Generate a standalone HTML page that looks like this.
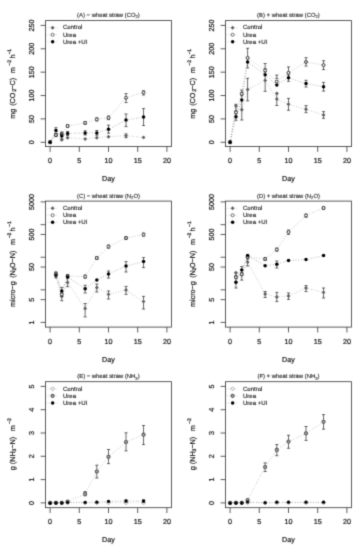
<!DOCTYPE html>
<html><head><meta charset="utf-8"><title>Figure</title>
<style>
html,body{margin:0;padding:0;background:#fff;}
body{width:356px;height:550px;overflow:hidden;}
svg{display:block;}

svg text{text-rendering:geometricPrecision;font-family:"Liberation Sans", Arial, sans-serif;fill:#222;stroke:#222;stroke-width:0.22px;}
svg text.tt{stroke-width:0.1px;fill:#111;stroke:#111;}
svg text.lg{stroke-width:0.12px;fill:#111;stroke:#111;}
</style></head><body>
<div id="w"><svg width="356" height="550" viewBox="0 0 356 550">
<defs><filter id="bl" x="0" y="0" width="100%" height="100%" filterUnits="userSpaceOnUse"><feConvolveMatrix order="3" kernelMatrix="1 5 1 5 25 5 1 5 1" edgeMode="none"/></filter></defs>
<rect width="356" height="550" fill="#fff"/>
<g filter="url(#bl)">
<rect x="45.40" y="20.60" width="126.1" height="126.0" fill="none" stroke="#333" stroke-width="0.8"/>
<line x1="50.10" y1="146.60" x2="50.10" y2="151.90" stroke="#333" stroke-width="0.8"/>
<text x="50.10" y="163.30" font-size="7.2" text-anchor="middle" >0</text>
<line x1="79.30" y1="146.60" x2="79.30" y2="151.90" stroke="#333" stroke-width="0.8"/>
<text x="79.30" y="163.30" font-size="7.2" text-anchor="middle" >5</text>
<line x1="108.50" y1="146.60" x2="108.50" y2="151.90" stroke="#333" stroke-width="0.8"/>
<text x="108.50" y="163.30" font-size="7.2" text-anchor="middle" >10</text>
<line x1="137.70" y1="146.60" x2="137.70" y2="151.90" stroke="#333" stroke-width="0.8"/>
<text x="137.70" y="163.30" font-size="7.2" text-anchor="middle" >15</text>
<line x1="166.90" y1="146.60" x2="166.90" y2="151.90" stroke="#333" stroke-width="0.8"/>
<text x="166.90" y="163.30" font-size="7.2" text-anchor="middle" >20</text>
<text x="108.45" y="181.20" font-size="7.2" text-anchor="middle" >Day</text>
<line x1="40.60" y1="142.30" x2="45.40" y2="142.30" stroke="#333" stroke-width="0.8"/>
<line x1="40.60" y1="118.92" x2="45.40" y2="118.92" stroke="#333" stroke-width="0.8"/>
<line x1="40.60" y1="95.54" x2="45.40" y2="95.54" stroke="#333" stroke-width="0.8"/>
<line x1="40.60" y1="72.16" x2="45.40" y2="72.16" stroke="#333" stroke-width="0.8"/>
<line x1="40.60" y1="48.78" x2="45.40" y2="48.78" stroke="#333" stroke-width="0.8"/>
<line x1="40.60" y1="25.40" x2="45.40" y2="25.40" stroke="#333" stroke-width="0.8"/>
<text x="0" y="0" transform="translate(33.80,142.30) rotate(-90)" font-size="7.2" text-anchor="middle" >0</text>
<text x="0" y="0" transform="translate(33.80,118.92) rotate(-90)" font-size="7.2" text-anchor="middle" >50</text>
<text x="0" y="0" transform="translate(33.80,95.54) rotate(-90)" font-size="7.2" text-anchor="middle" >100</text>
<text x="0" y="0" transform="translate(33.80,72.16) rotate(-90)" font-size="7.2" text-anchor="middle" >150</text>
<text x="0" y="0" transform="translate(33.80,48.78) rotate(-90)" font-size="7.2" text-anchor="middle" >200</text>
<text x="0" y="0" transform="translate(33.80,25.40) rotate(-90)" font-size="7.2" text-anchor="middle" >250</text>
<text x="108.45" y="17.20" font-size="5.9" text-anchor="middle" class="tt">(A) − wheat straw (CO<tspan font-size="70%" dy="1.2">2</tspan><tspan dy="-1.2">)</tspan></text>
<text x="0" y="0" transform="translate(14.70,118.70) rotate(-90)" font-size="7.20" text-anchor="start" xml:space="preserve">mg</text>
<text x="0" y="0" transform="translate(14.70,105.85) rotate(-90)" font-size="7.20" text-anchor="start" xml:space="preserve">(CO</text>
<text x="0" y="0" transform="translate(16.15,91.65) rotate(-90)" font-size="5.04" text-anchor="start" xml:space="preserve">2</text>
<text x="0" y="0" transform="translate(14.70,89.75) rotate(-90)" font-size="7.20" text-anchor="start" xml:space="preserve">−C)</text>
<text x="0" y="0" transform="translate(14.70,73.30) rotate(-90)" font-size="7.20" text-anchor="start" xml:space="preserve">m</text>
<text x="0" y="0" transform="translate(11.20,65.65) rotate(-90)" font-size="5.04" text-anchor="start" xml:space="preserve">−2</text>
<text x="0" y="0" transform="translate(14.70,58.40) rotate(-90)" font-size="7.20" text-anchor="start" xml:space="preserve">h</text>
<text x="0" y="0" transform="translate(11.20,54.60) rotate(-90)" font-size="5.04" text-anchor="start" xml:space="preserve">−1</text>
<line x1="46.60" y1="27.70" x2="58.00" y2="27.70" stroke="#999" stroke-width="0.6" stroke-dasharray="0.6 1.4"/>
<path d="M52.60 25.75 L54.55 27.70 L52.60 29.65 L50.65 27.70 Z" fill="#606060"/>
<text x="63.00" y="29.45" font-size="6.0" text-anchor="start" class="lg">Control</text>
<line x1="46.60" y1="34.75" x2="58.00" y2="34.75" stroke="#999" stroke-width="0.6" stroke-dasharray="0.6 1.4"/>
<circle cx="52.60" cy="34.75" r="1.5" fill="#fff" stroke="#505050" stroke-width="0.9"/>
<text x="63.00" y="36.50" font-size="6.0" text-anchor="start" class="lg">Urea</text>
<line x1="46.60" y1="41.80" x2="58.00" y2="41.80" stroke="#999" stroke-width="0.6" stroke-dasharray="0.6 1.4"/>
<circle cx="52.60" cy="41.80" r="1.75" fill="#000"/>
<text x="63.00" y="43.55" font-size="6.0" text-anchor="start" class="lg">Urea +UI</text>
<path d="M50.10 142.20 L55.94 135.50 L61.78 139.90 L67.62 137.80 L85.14 139.00 L96.82 137.70 L108.50 136.70 L126.02 135.70 L143.54 137.40" fill="none" stroke="#888" stroke-width="0.75" stroke-dasharray="0.6 2.0"/>
<path d="M126.02 133.90 L126.02 137.70 M124.47 133.90 L127.57 133.90 M124.47 137.70 L127.57 137.70" stroke="#3a3a3a" stroke-width="0.75" fill="none"/>
<path d="M50.10 140.25 L52.05 142.20 L50.10 144.15 L48.15 142.20 Z" fill="#606060"/>
<path d="M55.94 133.55 L57.89 135.50 L55.94 137.45 L53.99 135.50 Z" fill="#606060"/>
<path d="M61.78 137.95 L63.73 139.90 L61.78 141.85 L59.83 139.90 Z" fill="#606060"/>
<path d="M67.62 135.85 L69.57 137.80 L67.62 139.75 L65.67 137.80 Z" fill="#606060"/>
<path d="M85.14 137.05 L87.09 139.00 L85.14 140.95 L83.19 139.00 Z" fill="#606060"/>
<path d="M96.82 135.75 L98.77 137.70 L96.82 139.65 L94.87 137.70 Z" fill="#606060"/>
<path d="M108.50 134.75 L110.45 136.70 L108.50 138.65 L106.55 136.70 Z" fill="#606060"/>
<path d="M126.02 133.75 L127.97 135.70 L126.02 137.65 L124.07 135.70 Z" fill="#606060"/>
<path d="M143.54 135.45 L145.49 137.40 L143.54 139.35 L141.59 137.40 Z" fill="#606060"/>
<path d="M50.10 142.20 L55.94 135.00 L61.78 134.00 L67.62 126.00 L85.14 122.90 L96.82 119.40 L108.50 117.80 L126.02 97.80 L143.54 92.50" fill="none" stroke="#888" stroke-width="0.75" stroke-dasharray="0.6 2.0"/>
<path d="M50.10 140.70 L50.10 143.70 M48.55 140.70 L51.65 140.70 M48.55 143.70 L51.65 143.70" stroke="#3a3a3a" stroke-width="0.75" fill="none"/>
<path d="M55.94 133.50 L55.94 136.50 M54.39 133.50 L57.49 133.50 M54.39 136.50 L57.49 136.50" stroke="#3a3a3a" stroke-width="0.75" fill="none"/>
<path d="M61.78 132.00 L61.78 136.00 M60.23 132.00 L63.33 132.00 M60.23 136.00 L63.33 136.00" stroke="#3a3a3a" stroke-width="0.75" fill="none"/>
<path d="M67.62 124.50 L67.62 127.50 M66.07 124.50 L69.17 124.50 M66.07 127.50 L69.17 127.50" stroke="#3a3a3a" stroke-width="0.75" fill="none"/>
<path d="M85.14 121.50 L85.14 124.30 M83.59 121.50 L86.69 121.50 M83.59 124.30 L86.69 124.30" stroke="#3a3a3a" stroke-width="0.75" fill="none"/>
<path d="M96.82 117.90 L96.82 120.90 M95.27 117.90 L98.37 117.90 M95.27 120.90 L98.37 120.90" stroke="#3a3a3a" stroke-width="0.75" fill="none"/>
<path d="M108.50 116.00 L108.50 119.60 M106.95 116.00 L110.05 116.00 M106.95 119.60 L110.05 119.60" stroke="#3a3a3a" stroke-width="0.75" fill="none"/>
<path d="M126.02 93.60 L126.02 102.60 M124.47 93.60 L127.57 93.60 M124.47 102.60 L127.57 102.60" stroke="#3a3a3a" stroke-width="0.75" fill="none"/>
<path d="M143.54 90.80 L143.54 95.00 M141.99 90.80 L145.09 90.80 M141.99 95.00 L145.09 95.00" stroke="#3a3a3a" stroke-width="0.75" fill="none"/>
<circle cx="50.10" cy="142.20" r="1.45" fill="#eee" stroke="#222" stroke-width="1.0"/>
<circle cx="55.94" cy="135.00" r="1.45" fill="#eee" stroke="#222" stroke-width="1.0"/>
<circle cx="61.78" cy="134.00" r="1.45" fill="#eee" stroke="#222" stroke-width="1.0"/>
<circle cx="67.62" cy="126.00" r="1.45" fill="#eee" stroke="#222" stroke-width="1.0"/>
<circle cx="85.14" cy="122.90" r="1.45" fill="#eee" stroke="#222" stroke-width="1.0"/>
<circle cx="96.82" cy="119.40" r="1.45" fill="#eee" stroke="#222" stroke-width="1.0"/>
<circle cx="108.50" cy="117.80" r="1.45" fill="#eee" stroke="#222" stroke-width="1.0"/>
<circle cx="126.02" cy="97.80" r="1.45" fill="#eee" stroke="#222" stroke-width="1.0"/>
<circle cx="143.54" cy="92.50" r="1.45" fill="#eee" stroke="#222" stroke-width="1.0"/>
<path d="M50.10 142.20 L55.94 130.60 L61.78 136.10 L67.62 133.50 L85.14 132.90 L96.82 132.90 L108.50 129.30 L126.02 120.10 L143.54 117.00" fill="none" stroke="#666" stroke-width="0.75" stroke-dasharray="0.6 2.0"/>
<path d="M55.94 127.70 L55.94 133.50 M54.39 127.70 L57.49 127.70 M54.39 133.50 L57.49 133.50" stroke="#3a3a3a" stroke-width="0.75" fill="none"/>
<path d="M61.78 133.00 L61.78 139.00 M60.23 133.00 L63.33 133.00 M60.23 139.00 L63.33 139.00" stroke="#3a3a3a" stroke-width="0.75" fill="none"/>
<path d="M67.62 131.50 L67.62 135.50 M66.07 131.50 L69.17 131.50 M66.07 135.50 L69.17 135.50" stroke="#3a3a3a" stroke-width="0.75" fill="none"/>
<path d="M85.14 130.80 L85.14 135.00 M83.59 130.80 L86.69 130.80 M83.59 135.00 L86.69 135.00" stroke="#3a3a3a" stroke-width="0.75" fill="none"/>
<path d="M96.82 130.50 L96.82 135.30 M95.27 130.50 L98.37 130.50 M95.27 135.30 L98.37 135.30" stroke="#3a3a3a" stroke-width="0.75" fill="none"/>
<path d="M108.50 125.20 L108.50 133.20 M106.95 125.20 L110.05 125.20 M106.95 133.20 L110.05 133.20" stroke="#3a3a3a" stroke-width="0.75" fill="none"/>
<path d="M126.02 114.00 L126.02 126.60 M124.47 114.00 L127.57 114.00 M124.47 126.60 L127.57 126.60" stroke="#3a3a3a" stroke-width="0.75" fill="none"/>
<path d="M143.54 108.60 L143.54 125.50 M141.99 108.60 L145.09 108.60 M141.99 125.50 L145.09 125.50" stroke="#3a3a3a" stroke-width="0.75" fill="none"/>
<circle cx="50.10" cy="142.20" r="1.75" fill="#000"/>
<circle cx="55.94" cy="130.60" r="1.75" fill="#000"/>
<circle cx="61.78" cy="136.10" r="1.75" fill="#000"/>
<circle cx="67.62" cy="133.50" r="1.75" fill="#000"/>
<circle cx="85.14" cy="132.90" r="1.75" fill="#000"/>
<circle cx="96.82" cy="132.90" r="1.75" fill="#000"/>
<circle cx="108.50" cy="129.30" r="1.75" fill="#000"/>
<circle cx="126.02" cy="120.10" r="1.75" fill="#000"/>
<circle cx="143.54" cy="117.00" r="1.75" fill="#000"/>
<rect x="225.40" y="20.60" width="126.1" height="126.0" fill="none" stroke="#333" stroke-width="0.8"/>
<line x1="230.10" y1="146.60" x2="230.10" y2="151.90" stroke="#333" stroke-width="0.8"/>
<text x="230.10" y="163.30" font-size="7.2" text-anchor="middle" >0</text>
<line x1="259.30" y1="146.60" x2="259.30" y2="151.90" stroke="#333" stroke-width="0.8"/>
<text x="259.30" y="163.30" font-size="7.2" text-anchor="middle" >5</text>
<line x1="288.50" y1="146.60" x2="288.50" y2="151.90" stroke="#333" stroke-width="0.8"/>
<text x="288.50" y="163.30" font-size="7.2" text-anchor="middle" >10</text>
<line x1="317.70" y1="146.60" x2="317.70" y2="151.90" stroke="#333" stroke-width="0.8"/>
<text x="317.70" y="163.30" font-size="7.2" text-anchor="middle" >15</text>
<line x1="346.90" y1="146.60" x2="346.90" y2="151.90" stroke="#333" stroke-width="0.8"/>
<text x="346.90" y="163.30" font-size="7.2" text-anchor="middle" >20</text>
<text x="288.45" y="181.20" font-size="7.2" text-anchor="middle" >Day</text>
<line x1="220.60" y1="142.30" x2="225.40" y2="142.30" stroke="#333" stroke-width="0.8"/>
<line x1="220.60" y1="118.92" x2="225.40" y2="118.92" stroke="#333" stroke-width="0.8"/>
<line x1="220.60" y1="95.54" x2="225.40" y2="95.54" stroke="#333" stroke-width="0.8"/>
<line x1="220.60" y1="72.16" x2="225.40" y2="72.16" stroke="#333" stroke-width="0.8"/>
<line x1="220.60" y1="48.78" x2="225.40" y2="48.78" stroke="#333" stroke-width="0.8"/>
<line x1="220.60" y1="25.40" x2="225.40" y2="25.40" stroke="#333" stroke-width="0.8"/>
<text x="0" y="0" transform="translate(213.80,142.30) rotate(-90)" font-size="7.2" text-anchor="middle" >0</text>
<text x="0" y="0" transform="translate(213.80,118.92) rotate(-90)" font-size="7.2" text-anchor="middle" >50</text>
<text x="0" y="0" transform="translate(213.80,95.54) rotate(-90)" font-size="7.2" text-anchor="middle" >100</text>
<text x="0" y="0" transform="translate(213.80,72.16) rotate(-90)" font-size="7.2" text-anchor="middle" >150</text>
<text x="0" y="0" transform="translate(213.80,48.78) rotate(-90)" font-size="7.2" text-anchor="middle" >200</text>
<text x="0" y="0" transform="translate(213.80,25.40) rotate(-90)" font-size="7.2" text-anchor="middle" >250</text>
<text x="288.45" y="17.20" font-size="5.9" text-anchor="middle" class="tt">(B) + wheat straw (CO<tspan font-size="70%" dy="1.2">2</tspan><tspan dy="-1.2">)</tspan></text>
<text x="0" y="0" transform="translate(194.70,118.70) rotate(-90)" font-size="7.20" text-anchor="start" xml:space="preserve">mg</text>
<text x="0" y="0" transform="translate(194.70,105.85) rotate(-90)" font-size="7.20" text-anchor="start" xml:space="preserve">(CO</text>
<text x="0" y="0" transform="translate(196.15,91.65) rotate(-90)" font-size="5.04" text-anchor="start" xml:space="preserve">2</text>
<text x="0" y="0" transform="translate(194.70,89.75) rotate(-90)" font-size="7.20" text-anchor="start" xml:space="preserve">−C)</text>
<text x="0" y="0" transform="translate(194.70,73.30) rotate(-90)" font-size="7.20" text-anchor="start" xml:space="preserve">m</text>
<text x="0" y="0" transform="translate(191.20,65.65) rotate(-90)" font-size="5.04" text-anchor="start" xml:space="preserve">−2</text>
<text x="0" y="0" transform="translate(194.70,58.40) rotate(-90)" font-size="7.20" text-anchor="start" xml:space="preserve">h</text>
<text x="0" y="0" transform="translate(191.20,54.60) rotate(-90)" font-size="5.04" text-anchor="start" xml:space="preserve">−1</text>
<line x1="226.60" y1="27.70" x2="238.00" y2="27.70" stroke="#999" stroke-width="0.6" stroke-dasharray="0.6 1.4"/>
<path d="M232.60 25.75 L234.55 27.70 L232.60 29.65 L230.65 27.70 Z" fill="#606060"/>
<text x="243.00" y="29.45" font-size="6.0" text-anchor="start" class="lg">Control</text>
<line x1="226.60" y1="34.75" x2="238.00" y2="34.75" stroke="#999" stroke-width="0.6" stroke-dasharray="0.6 1.4"/>
<circle cx="232.60" cy="34.75" r="1.5" fill="#fff" stroke="#505050" stroke-width="0.9"/>
<text x="243.00" y="36.50" font-size="6.0" text-anchor="start" class="lg">Urea</text>
<line x1="226.60" y1="41.80" x2="238.00" y2="41.80" stroke="#999" stroke-width="0.6" stroke-dasharray="0.6 1.4"/>
<circle cx="232.60" cy="41.80" r="1.75" fill="#000"/>
<text x="243.00" y="43.55" font-size="6.0" text-anchor="start" class="lg">Urea +UI</text>
<path d="M230.10 142.20 L235.94 106.00 L241.78 109.80 L247.62 89.50 L265.14 80.40 L276.82 99.10 L288.50 104.30 L306.02 109.30 L323.54 115.00" fill="none" stroke="#888" stroke-width="0.75" stroke-dasharray="0.6 2.0"/>
<path d="M235.94 104.30 L235.94 120.30 M234.39 104.30 L237.49 104.30 M234.39 120.30 L237.49 120.30" stroke="#3a3a3a" stroke-width="0.75" fill="none"/>
<path d="M241.78 90.00 L241.78 120.00 M240.23 90.00 L243.33 90.00 M240.23 120.00 L243.33 120.00" stroke="#3a3a3a" stroke-width="0.75" fill="none"/>
<path d="M247.62 78.30 L247.62 100.80 M246.07 78.30 L249.17 78.30 M246.07 100.80 L249.17 100.80" stroke="#3a3a3a" stroke-width="0.75" fill="none"/>
<path d="M265.14 63.50 L265.14 91.30 M263.59 63.50 L266.69 63.50 M263.59 91.30 L266.69 91.30" stroke="#3a3a3a" stroke-width="0.75" fill="none"/>
<path d="M276.82 93.40 L276.82 105.50 M275.27 93.40 L278.37 93.40 M275.27 105.50 L278.37 105.50" stroke="#3a3a3a" stroke-width="0.75" fill="none"/>
<path d="M288.50 98.40 L288.50 110.30 M286.95 98.40 L290.05 98.40 M286.95 110.30 L290.05 110.30" stroke="#3a3a3a" stroke-width="0.75" fill="none"/>
<path d="M306.02 105.60 L306.02 112.70 M304.47 105.60 L307.57 105.60 M304.47 112.70 L307.57 112.70" stroke="#3a3a3a" stroke-width="0.75" fill="none"/>
<path d="M323.54 111.60 L323.54 118.40 M321.99 111.60 L325.09 111.60 M321.99 118.40 L325.09 118.40" stroke="#3a3a3a" stroke-width="0.75" fill="none"/>
<path d="M230.10 140.25 L232.05 142.20 L230.10 144.15 L228.15 142.20 Z" fill="#606060"/>
<path d="M235.94 104.05 L237.89 106.00 L235.94 107.95 L233.99 106.00 Z" fill="#606060"/>
<path d="M241.78 107.85 L243.73 109.80 L241.78 111.75 L239.83 109.80 Z" fill="#606060"/>
<path d="M247.62 87.55 L249.57 89.50 L247.62 91.45 L245.67 89.50 Z" fill="#606060"/>
<path d="M265.14 78.45 L267.09 80.40 L265.14 82.35 L263.19 80.40 Z" fill="#606060"/>
<path d="M276.82 97.15 L278.77 99.10 L276.82 101.05 L274.87 99.10 Z" fill="#606060"/>
<path d="M288.50 102.35 L290.45 104.30 L288.50 106.25 L286.55 104.30 Z" fill="#606060"/>
<path d="M306.02 107.35 L307.97 109.30 L306.02 111.25 L304.07 109.30 Z" fill="#606060"/>
<path d="M323.54 113.05 L325.49 115.00 L323.54 116.95 L321.59 115.00 Z" fill="#606060"/>
<path d="M276.82 91.45 L278.77 93.40 L276.82 95.35 L274.87 93.40 Z" fill="#606060"/>
<path d="M230.10 142.20 L235.94 112.30 L241.78 93.80 L247.62 57.90 L265.14 70.40 L276.82 81.60 L288.50 72.80 L306.02 62.00 L323.54 65.10" fill="none" stroke="#888" stroke-width="0.75" stroke-dasharray="0.6 2.0"/>
<path d="M230.10 140.70 L230.10 143.70 M228.55 140.70 L231.65 140.70 M228.55 143.70 L231.65 143.70" stroke="#3a3a3a" stroke-width="0.75" fill="none"/>
<path d="M235.94 110.80 L235.94 113.80 M234.39 110.80 L237.49 110.80 M234.39 113.80 L237.49 113.80" stroke="#3a3a3a" stroke-width="0.75" fill="none"/>
<path d="M241.78 92.30 L241.78 95.30 M240.23 92.30 L243.33 92.30 M240.23 95.30 L243.33 95.30" stroke="#3a3a3a" stroke-width="0.75" fill="none"/>
<path d="M247.62 48.30 L247.62 67.90 M246.07 48.30 L249.17 48.30 M246.07 67.90 L249.17 67.90" stroke="#3a3a3a" stroke-width="0.75" fill="none"/>
<path d="M265.14 68.90 L265.14 71.90 M263.59 68.90 L266.69 68.90 M263.59 71.90 L266.69 71.90" stroke="#3a3a3a" stroke-width="0.75" fill="none"/>
<path d="M276.82 75.10 L276.82 78.40 M275.27 75.10 L278.37 75.10 M275.27 78.40 L278.37 78.40" stroke="#3a3a3a" stroke-width="0.75" fill="none"/>
<path d="M288.50 66.90 L288.50 78.00 M286.95 66.90 L290.05 66.90 M286.95 78.00 L290.05 78.00" stroke="#3a3a3a" stroke-width="0.75" fill="none"/>
<path d="M306.02 57.70 L306.02 66.10 M304.47 57.70 L307.57 57.70 M304.47 66.10 L307.57 66.10" stroke="#3a3a3a" stroke-width="0.75" fill="none"/>
<path d="M323.54 60.70 L323.54 69.60 M321.99 60.70 L325.09 60.70 M321.99 69.60 L325.09 69.60" stroke="#3a3a3a" stroke-width="0.75" fill="none"/>
<circle cx="230.10" cy="142.20" r="1.45" fill="#eee" stroke="#222" stroke-width="1.0"/>
<circle cx="235.94" cy="112.30" r="1.45" fill="#eee" stroke="#222" stroke-width="1.0"/>
<circle cx="241.78" cy="93.80" r="1.45" fill="#eee" stroke="#222" stroke-width="1.0"/>
<circle cx="247.62" cy="57.90" r="1.45" fill="#eee" stroke="#222" stroke-width="1.0"/>
<circle cx="265.14" cy="70.40" r="1.45" fill="#eee" stroke="#222" stroke-width="1.0"/>
<circle cx="276.82" cy="81.60" r="1.45" fill="#eee" stroke="#222" stroke-width="1.0"/>
<circle cx="288.50" cy="72.80" r="1.45" fill="#eee" stroke="#222" stroke-width="1.0"/>
<circle cx="306.02" cy="62.00" r="1.45" fill="#eee" stroke="#222" stroke-width="1.0"/>
<circle cx="323.54" cy="65.10" r="1.45" fill="#eee" stroke="#222" stroke-width="1.0"/>
<path d="M230.10 142.20 L235.94 116.80 L241.78 100.10 L247.62 61.90 L265.14 74.70 L276.82 84.90 L288.50 77.70 L306.02 83.60 L323.54 86.70" fill="none" stroke="#666" stroke-width="0.75" stroke-dasharray="0.6 2.0"/>
<path d="M288.50 75.00 L288.50 81.30 M286.95 75.00 L290.05 75.00 M286.95 81.30 L290.05 81.30" stroke="#3a3a3a" stroke-width="0.75" fill="none"/>
<path d="M306.02 80.30 L306.02 87.00 M304.47 80.30 L307.57 80.30 M304.47 87.00 L307.57 87.00" stroke="#3a3a3a" stroke-width="0.75" fill="none"/>
<path d="M323.54 82.40 L323.54 91.10 M321.99 82.40 L325.09 82.40 M321.99 91.10 L325.09 91.10" stroke="#3a3a3a" stroke-width="0.75" fill="none"/>
<circle cx="230.10" cy="142.20" r="1.75" fill="#000"/>
<circle cx="235.94" cy="116.80" r="1.75" fill="#000"/>
<circle cx="241.78" cy="100.10" r="1.75" fill="#000"/>
<circle cx="247.62" cy="61.90" r="1.75" fill="#000"/>
<circle cx="265.14" cy="74.70" r="1.75" fill="#000"/>
<circle cx="276.82" cy="84.90" r="1.75" fill="#000"/>
<circle cx="288.50" cy="77.70" r="1.75" fill="#000"/>
<circle cx="306.02" cy="83.60" r="1.75" fill="#000"/>
<circle cx="323.54" cy="86.70" r="1.75" fill="#000"/>
<rect x="45.40" y="201.10" width="126.1" height="126.0" fill="none" stroke="#333" stroke-width="0.8"/>
<line x1="50.10" y1="327.10" x2="50.10" y2="332.40" stroke="#333" stroke-width="0.8"/>
<text x="50.10" y="343.80" font-size="7.2" text-anchor="middle" >0</text>
<line x1="79.30" y1="327.10" x2="79.30" y2="332.40" stroke="#333" stroke-width="0.8"/>
<text x="79.30" y="343.80" font-size="7.2" text-anchor="middle" >5</text>
<line x1="108.50" y1="327.10" x2="108.50" y2="332.40" stroke="#333" stroke-width="0.8"/>
<text x="108.50" y="343.80" font-size="7.2" text-anchor="middle" >10</text>
<line x1="137.70" y1="327.10" x2="137.70" y2="332.40" stroke="#333" stroke-width="0.8"/>
<text x="137.70" y="343.80" font-size="7.2" text-anchor="middle" >15</text>
<line x1="166.90" y1="327.10" x2="166.90" y2="332.40" stroke="#333" stroke-width="0.8"/>
<text x="166.90" y="343.80" font-size="7.2" text-anchor="middle" >20</text>
<text x="108.45" y="361.70" font-size="7.2" text-anchor="middle" >Day</text>
<line x1="40.60" y1="322.40" x2="45.40" y2="322.40" stroke="#333" stroke-width="0.8"/>
<line x1="40.60" y1="299.63" x2="45.40" y2="299.63" stroke="#333" stroke-width="0.8"/>
<line x1="40.60" y1="289.82" x2="45.40" y2="289.82" stroke="#333" stroke-width="0.8"/>
<line x1="40.60" y1="267.05" x2="45.40" y2="267.05" stroke="#333" stroke-width="0.8"/>
<line x1="40.60" y1="257.24" x2="45.40" y2="257.24" stroke="#333" stroke-width="0.8"/>
<line x1="40.60" y1="234.47" x2="45.40" y2="234.47" stroke="#333" stroke-width="0.8"/>
<line x1="40.60" y1="224.66" x2="45.40" y2="224.66" stroke="#333" stroke-width="0.8"/>
<line x1="40.60" y1="201.89" x2="45.40" y2="201.89" stroke="#333" stroke-width="0.8"/>
<text x="0" y="0" transform="translate(33.80,322.40) rotate(-90)" font-size="7.2" text-anchor="middle" >1</text>
<text x="0" y="0" transform="translate(33.80,299.63) rotate(-90)" font-size="7.2" text-anchor="middle" >5</text>
<text x="0" y="0" transform="translate(33.80,267.05) rotate(-90)" font-size="7.2" text-anchor="middle" >50</text>
<text x="0" y="0" transform="translate(33.80,234.47) rotate(-90)" font-size="7.2" text-anchor="middle" >500</text>
<text x="0" y="0" transform="translate(33.80,201.89) rotate(-90)" font-size="7.2" text-anchor="middle" >5000</text>
<text x="108.45" y="197.70" font-size="5.9" text-anchor="middle" class="tt">(C) − wheat straw (N<tspan font-size="70%" dy="1.2">2</tspan><tspan dy="-1.2">O)</tspan></text>
<text x="0" y="0" transform="translate(14.70,307.00) rotate(-90)" font-size="7.20" text-anchor="start" xml:space="preserve">micro−g</text>
<text x="0" y="0" transform="translate(14.70,277.85) rotate(-90)" font-size="7.20" text-anchor="start" xml:space="preserve">(N</text>
<text x="0" y="0" transform="translate(16.15,270.55) rotate(-90)" font-size="5.04" text-anchor="start" xml:space="preserve">2</text>
<text x="0" y="0" transform="translate(14.70,268.00) rotate(-90)" font-size="7.20" text-anchor="start" xml:space="preserve">O−N)</text>
<text x="0" y="0" transform="translate(14.70,245.00) rotate(-90)" font-size="7.20" text-anchor="start" xml:space="preserve">m</text>
<text x="0" y="0" transform="translate(11.20,238.35) rotate(-90)" font-size="5.04" text-anchor="start" xml:space="preserve">−2</text>
<text x="0" y="0" transform="translate(14.70,231.60) rotate(-90)" font-size="7.20" text-anchor="start" xml:space="preserve">h</text>
<text x="0" y="0" transform="translate(11.20,227.00) rotate(-90)" font-size="5.04" text-anchor="start" xml:space="preserve">−1</text>
<line x1="46.60" y1="208.20" x2="58.00" y2="208.20" stroke="#999" stroke-width="0.6" stroke-dasharray="0.6 1.4"/>
<path d="M52.60 206.25 L54.55 208.20 L52.60 210.15 L50.65 208.20 Z" fill="#606060"/>
<text x="63.00" y="209.95" font-size="6.0" text-anchor="start" class="lg">Control</text>
<line x1="46.60" y1="215.25" x2="58.00" y2="215.25" stroke="#999" stroke-width="0.6" stroke-dasharray="0.6 1.4"/>
<circle cx="52.60" cy="215.25" r="1.5" fill="#fff" stroke="#505050" stroke-width="0.9"/>
<text x="63.00" y="217.00" font-size="6.0" text-anchor="start" class="lg">Urea</text>
<line x1="46.60" y1="222.30" x2="58.00" y2="222.30" stroke="#999" stroke-width="0.6" stroke-dasharray="0.6 1.4"/>
<circle cx="52.60" cy="222.30" r="1.75" fill="#000"/>
<text x="63.00" y="224.05" font-size="6.0" text-anchor="start" class="lg">Urea +UI</text>
<path d="M55.94 277.00 L61.78 296.50 L67.62 282.50 L85.14 308.50 L96.82 287.60 L108.50 294.40 L126.02 290.00 L143.54 301.60" fill="none" stroke="#888" stroke-width="0.75" stroke-dasharray="0.6 2.0"/>
<path d="M61.78 287.40 L61.78 300.70 M60.23 287.40 L63.33 287.40 M60.23 300.70 L63.33 300.70" stroke="#3a3a3a" stroke-width="0.75" fill="none"/>
<path d="M67.62 278.00 L67.62 286.70 M66.07 278.00 L69.17 278.00 M66.07 286.70 L69.17 286.70" stroke="#3a3a3a" stroke-width="0.75" fill="none"/>
<path d="M85.14 303.50 L85.14 316.90 M83.59 303.50 L86.69 303.50 M83.59 316.90 L86.69 316.90" stroke="#3a3a3a" stroke-width="0.75" fill="none"/>
<path d="M96.82 284.00 L96.82 292.00 M95.27 284.00 L98.37 284.00 M95.27 292.00 L98.37 292.00" stroke="#3a3a3a" stroke-width="0.75" fill="none"/>
<path d="M108.50 291.00 L108.50 299.00 M106.95 291.00 L110.05 291.00 M106.95 299.00 L110.05 299.00" stroke="#3a3a3a" stroke-width="0.75" fill="none"/>
<path d="M126.02 286.40 L126.02 294.40 M124.47 286.40 L127.57 286.40 M124.47 294.40 L127.57 294.40" stroke="#3a3a3a" stroke-width="0.75" fill="none"/>
<path d="M143.54 296.40 L143.54 309.00 M141.99 296.40 L145.09 296.40 M141.99 309.00 L145.09 309.00" stroke="#3a3a3a" stroke-width="0.75" fill="none"/>
<path d="M55.94 275.05 L57.89 277.00 L55.94 278.95 L53.99 277.00 Z" fill="#606060"/>
<path d="M61.78 294.55 L63.73 296.50 L61.78 298.45 L59.83 296.50 Z" fill="#606060"/>
<path d="M67.62 280.55 L69.57 282.50 L67.62 284.45 L65.67 282.50 Z" fill="#606060"/>
<path d="M85.14 306.55 L87.09 308.50 L85.14 310.45 L83.19 308.50 Z" fill="#606060"/>
<path d="M96.82 285.65 L98.77 287.60 L96.82 289.55 L94.87 287.60 Z" fill="#606060"/>
<path d="M108.50 292.45 L110.45 294.40 L108.50 296.35 L106.55 294.40 Z" fill="#606060"/>
<path d="M126.02 288.05 L127.97 290.00 L126.02 291.95 L124.07 290.00 Z" fill="#606060"/>
<path d="M143.54 299.65 L145.49 301.60 L143.54 303.55 L141.59 301.60 Z" fill="#606060"/>
<path d="M55.94 273.50 L61.78 294.40 L67.62 276.00 L85.14 276.60 L96.82 258.00 L108.50 246.60 L126.02 238.00 L143.54 234.60" fill="none" stroke="#888" stroke-width="0.75" stroke-dasharray="0.6 2.0"/>
<path d="M55.94 272.00 L55.94 275.00 M54.39 272.00 L57.49 272.00 M54.39 275.00 L57.49 275.00" stroke="#3a3a3a" stroke-width="0.75" fill="none"/>
<path d="M61.78 292.90 L61.78 295.90 M60.23 292.90 L63.33 292.90 M60.23 295.90 L63.33 295.90" stroke="#3a3a3a" stroke-width="0.75" fill="none"/>
<path d="M67.62 274.50 L67.62 277.50 M66.07 274.50 L69.17 274.50 M66.07 277.50 L69.17 277.50" stroke="#3a3a3a" stroke-width="0.75" fill="none"/>
<path d="M85.14 275.10 L85.14 278.10 M83.59 275.10 L86.69 275.10 M83.59 278.10 L86.69 278.10" stroke="#3a3a3a" stroke-width="0.75" fill="none"/>
<path d="M96.82 256.50 L96.82 259.50 M95.27 256.50 L98.37 256.50 M95.27 259.50 L98.37 259.50" stroke="#3a3a3a" stroke-width="0.75" fill="none"/>
<path d="M108.50 245.10 L108.50 248.10 M106.95 245.10 L110.05 245.10 M106.95 248.10 L110.05 248.10" stroke="#3a3a3a" stroke-width="0.75" fill="none"/>
<path d="M126.02 236.50 L126.02 239.50 M124.47 236.50 L127.57 236.50 M124.47 239.50 L127.57 239.50" stroke="#3a3a3a" stroke-width="0.75" fill="none"/>
<path d="M143.54 233.10 L143.54 236.10 M141.99 233.10 L145.09 233.10 M141.99 236.10 L145.09 236.10" stroke="#3a3a3a" stroke-width="0.75" fill="none"/>
<circle cx="55.94" cy="273.50" r="1.45" fill="#eee" stroke="#222" stroke-width="1.0"/>
<circle cx="61.78" cy="294.40" r="1.45" fill="#eee" stroke="#222" stroke-width="1.0"/>
<circle cx="67.62" cy="276.00" r="1.45" fill="#eee" stroke="#222" stroke-width="1.0"/>
<circle cx="85.14" cy="276.60" r="1.45" fill="#eee" stroke="#222" stroke-width="1.0"/>
<circle cx="96.82" cy="258.00" r="1.45" fill="#eee" stroke="#222" stroke-width="1.0"/>
<circle cx="108.50" cy="246.60" r="1.45" fill="#eee" stroke="#222" stroke-width="1.0"/>
<circle cx="126.02" cy="238.00" r="1.45" fill="#eee" stroke="#222" stroke-width="1.0"/>
<circle cx="143.54" cy="234.60" r="1.45" fill="#eee" stroke="#222" stroke-width="1.0"/>
<path d="M55.94 275.00 L61.78 290.90 L67.62 276.90 L85.14 288.80 L96.82 280.00 L108.50 274.00 L126.02 266.00 L143.54 261.60" fill="none" stroke="#666" stroke-width="0.75" stroke-dasharray="0.6 2.0"/>
<path d="M85.14 285.30 L85.14 293.00 M83.59 285.30 L86.69 285.30 M83.59 293.00 L86.69 293.00" stroke="#3a3a3a" stroke-width="0.75" fill="none"/>
<path d="M108.50 271.00 L108.50 278.00 M106.95 271.00 L110.05 271.00 M106.95 278.00 L110.05 278.00" stroke="#3a3a3a" stroke-width="0.75" fill="none"/>
<path d="M126.02 261.60 L126.02 272.00 M124.47 261.60 L127.57 261.60 M124.47 272.00 L127.57 272.00" stroke="#3a3a3a" stroke-width="0.75" fill="none"/>
<path d="M143.54 257.60 L143.54 267.60 M141.99 257.60 L145.09 257.60 M141.99 267.60 L145.09 267.60" stroke="#3a3a3a" stroke-width="0.75" fill="none"/>
<circle cx="55.94" cy="275.00" r="1.75" fill="#000"/>
<circle cx="61.78" cy="290.90" r="1.75" fill="#000"/>
<circle cx="67.62" cy="276.90" r="1.75" fill="#000"/>
<circle cx="85.14" cy="288.80" r="1.75" fill="#000"/>
<circle cx="96.82" cy="280.00" r="1.75" fill="#000"/>
<circle cx="108.50" cy="274.00" r="1.75" fill="#000"/>
<circle cx="126.02" cy="266.00" r="1.75" fill="#000"/>
<circle cx="143.54" cy="261.60" r="1.75" fill="#000"/>
<rect x="225.40" y="201.10" width="126.1" height="126.0" fill="none" stroke="#333" stroke-width="0.8"/>
<line x1="230.10" y1="327.10" x2="230.10" y2="332.40" stroke="#333" stroke-width="0.8"/>
<text x="230.10" y="343.80" font-size="7.2" text-anchor="middle" >0</text>
<line x1="259.30" y1="327.10" x2="259.30" y2="332.40" stroke="#333" stroke-width="0.8"/>
<text x="259.30" y="343.80" font-size="7.2" text-anchor="middle" >5</text>
<line x1="288.50" y1="327.10" x2="288.50" y2="332.40" stroke="#333" stroke-width="0.8"/>
<text x="288.50" y="343.80" font-size="7.2" text-anchor="middle" >10</text>
<line x1="317.70" y1="327.10" x2="317.70" y2="332.40" stroke="#333" stroke-width="0.8"/>
<text x="317.70" y="343.80" font-size="7.2" text-anchor="middle" >15</text>
<line x1="346.90" y1="327.10" x2="346.90" y2="332.40" stroke="#333" stroke-width="0.8"/>
<text x="346.90" y="343.80" font-size="7.2" text-anchor="middle" >20</text>
<text x="288.45" y="361.70" font-size="7.2" text-anchor="middle" >Day</text>
<line x1="220.60" y1="322.40" x2="225.40" y2="322.40" stroke="#333" stroke-width="0.8"/>
<line x1="220.60" y1="299.63" x2="225.40" y2="299.63" stroke="#333" stroke-width="0.8"/>
<line x1="220.60" y1="289.82" x2="225.40" y2="289.82" stroke="#333" stroke-width="0.8"/>
<line x1="220.60" y1="267.05" x2="225.40" y2="267.05" stroke="#333" stroke-width="0.8"/>
<line x1="220.60" y1="257.24" x2="225.40" y2="257.24" stroke="#333" stroke-width="0.8"/>
<line x1="220.60" y1="234.47" x2="225.40" y2="234.47" stroke="#333" stroke-width="0.8"/>
<line x1="220.60" y1="224.66" x2="225.40" y2="224.66" stroke="#333" stroke-width="0.8"/>
<line x1="220.60" y1="201.89" x2="225.40" y2="201.89" stroke="#333" stroke-width="0.8"/>
<text x="0" y="0" transform="translate(213.80,322.40) rotate(-90)" font-size="7.2" text-anchor="middle" >1</text>
<text x="0" y="0" transform="translate(213.80,299.63) rotate(-90)" font-size="7.2" text-anchor="middle" >5</text>
<text x="0" y="0" transform="translate(213.80,267.05) rotate(-90)" font-size="7.2" text-anchor="middle" >50</text>
<text x="0" y="0" transform="translate(213.80,234.47) rotate(-90)" font-size="7.2" text-anchor="middle" >500</text>
<text x="0" y="0" transform="translate(213.80,201.89) rotate(-90)" font-size="7.2" text-anchor="middle" >5000</text>
<text x="288.45" y="197.70" font-size="5.9" text-anchor="middle" class="tt">(D) + wheat straw (N<tspan font-size="70%" dy="1.2">2</tspan><tspan dy="-1.2">O)</tspan></text>
<text x="0" y="0" transform="translate(194.70,307.00) rotate(-90)" font-size="7.20" text-anchor="start" xml:space="preserve">micro−g</text>
<text x="0" y="0" transform="translate(194.70,277.85) rotate(-90)" font-size="7.20" text-anchor="start" xml:space="preserve">(N</text>
<text x="0" y="0" transform="translate(196.15,270.55) rotate(-90)" font-size="5.04" text-anchor="start" xml:space="preserve">2</text>
<text x="0" y="0" transform="translate(194.70,268.00) rotate(-90)" font-size="7.20" text-anchor="start" xml:space="preserve">O−N)</text>
<text x="0" y="0" transform="translate(194.70,245.00) rotate(-90)" font-size="7.20" text-anchor="start" xml:space="preserve">m</text>
<text x="0" y="0" transform="translate(191.20,238.35) rotate(-90)" font-size="5.04" text-anchor="start" xml:space="preserve">−2</text>
<text x="0" y="0" transform="translate(194.70,231.60) rotate(-90)" font-size="7.20" text-anchor="start" xml:space="preserve">h</text>
<text x="0" y="0" transform="translate(191.20,227.00) rotate(-90)" font-size="5.04" text-anchor="start" xml:space="preserve">−1</text>
<line x1="226.60" y1="208.20" x2="238.00" y2="208.20" stroke="#999" stroke-width="0.6" stroke-dasharray="0.6 1.4"/>
<path d="M232.60 206.25 L234.55 208.20 L232.60 210.15 L230.65 208.20 Z" fill="#606060"/>
<text x="243.00" y="209.95" font-size="6.0" text-anchor="start" class="lg">Control</text>
<line x1="226.60" y1="215.25" x2="238.00" y2="215.25" stroke="#999" stroke-width="0.6" stroke-dasharray="0.6 1.4"/>
<circle cx="232.60" cy="215.25" r="1.5" fill="#fff" stroke="#505050" stroke-width="0.9"/>
<text x="243.00" y="217.00" font-size="6.0" text-anchor="start" class="lg">Urea</text>
<line x1="226.60" y1="222.30" x2="238.00" y2="222.30" stroke="#999" stroke-width="0.6" stroke-dasharray="0.6 1.4"/>
<circle cx="232.60" cy="222.30" r="1.75" fill="#000"/>
<text x="243.00" y="224.05" font-size="6.0" text-anchor="start" class="lg">Urea +UI</text>
<path d="M235.94 272.80 L241.78 274.20 L247.62 262.10 L265.14 294.00 L276.82 297.00 L288.50 296.00 L306.02 288.00 L323.54 292.40" fill="none" stroke="#888" stroke-width="0.75" stroke-dasharray="0.6 2.0"/>
<path d="M235.94 272.80 L235.94 288.00 M234.39 272.80 L237.49 272.80 M234.39 288.00 L237.49 288.00" stroke="#3a3a3a" stroke-width="0.75" fill="none"/>
<path d="M241.78 266.50 L241.78 280.10 M240.23 266.50 L243.33 266.50 M240.23 280.10 L243.33 280.10" stroke="#3a3a3a" stroke-width="0.75" fill="none"/>
<path d="M247.62 259.00 L247.62 266.00 M246.07 259.00 L249.17 259.00 M246.07 266.00 L249.17 266.00" stroke="#3a3a3a" stroke-width="0.75" fill="none"/>
<path d="M265.14 291.50 L265.14 297.50 M263.59 291.50 L266.69 291.50 M263.59 297.50 L266.69 297.50" stroke="#3a3a3a" stroke-width="0.75" fill="none"/>
<path d="M276.82 292.40 L276.82 301.60 M275.27 292.40 L278.37 292.40 M275.27 301.60 L278.37 301.60" stroke="#3a3a3a" stroke-width="0.75" fill="none"/>
<path d="M288.50 293.00 L288.50 299.40 M286.95 293.00 L290.05 293.00 M286.95 299.40 L290.05 299.40" stroke="#3a3a3a" stroke-width="0.75" fill="none"/>
<path d="M306.02 285.60 L306.02 291.60 M304.47 285.60 L307.57 285.60 M304.47 291.60 L307.57 291.60" stroke="#3a3a3a" stroke-width="0.75" fill="none"/>
<path d="M323.54 288.00 L323.54 298.00 M321.99 288.00 L325.09 288.00 M321.99 298.00 L325.09 298.00" stroke="#3a3a3a" stroke-width="0.75" fill="none"/>
<path d="M235.94 270.85 L237.89 272.80 L235.94 274.75 L233.99 272.80 Z" fill="#606060"/>
<path d="M241.78 272.25 L243.73 274.20 L241.78 276.15 L239.83 274.20 Z" fill="#606060"/>
<path d="M247.62 260.15 L249.57 262.10 L247.62 264.05 L245.67 262.10 Z" fill="#606060"/>
<path d="M265.14 292.05 L267.09 294.00 L265.14 295.95 L263.19 294.00 Z" fill="#606060"/>
<path d="M276.82 295.05 L278.77 297.00 L276.82 298.95 L274.87 297.00 Z" fill="#606060"/>
<path d="M288.50 294.05 L290.45 296.00 L288.50 297.95 L286.55 296.00 Z" fill="#606060"/>
<path d="M306.02 286.05 L307.97 288.00 L306.02 289.95 L304.07 288.00 Z" fill="#606060"/>
<path d="M323.54 290.45 L325.49 292.40 L323.54 294.35 L321.59 292.40 Z" fill="#606060"/>
<path d="M235.94 277.10 L241.78 274.20 L247.62 256.90 L265.14 259.00 L276.82 249.60 L288.50 232.00 L306.02 215.60 L323.54 208.00" fill="none" stroke="#888" stroke-width="0.75" stroke-dasharray="0.6 2.0"/>
<path d="M235.94 275.60 L235.94 278.60 M234.39 275.60 L237.49 275.60 M234.39 278.60 L237.49 278.60" stroke="#3a3a3a" stroke-width="0.75" fill="none"/>
<path d="M241.78 272.70 L241.78 275.70 M240.23 272.70 L243.33 272.70 M240.23 275.70 L243.33 275.70" stroke="#3a3a3a" stroke-width="0.75" fill="none"/>
<path d="M247.62 255.40 L247.62 258.40 M246.07 255.40 L249.17 255.40 M246.07 258.40 L249.17 258.40" stroke="#3a3a3a" stroke-width="0.75" fill="none"/>
<path d="M265.14 257.50 L265.14 260.50 M263.59 257.50 L266.69 257.50 M263.59 260.50 L266.69 260.50" stroke="#3a3a3a" stroke-width="0.75" fill="none"/>
<path d="M276.82 248.10 L276.82 251.10 M275.27 248.10 L278.37 248.10 M275.27 251.10 L278.37 251.10" stroke="#3a3a3a" stroke-width="0.75" fill="none"/>
<path d="M288.50 230.00 L288.50 234.40 M286.95 230.00 L290.05 230.00 M286.95 234.40 L290.05 234.40" stroke="#3a3a3a" stroke-width="0.75" fill="none"/>
<path d="M306.02 214.10 L306.02 217.10 M304.47 214.10 L307.57 214.10 M304.47 217.10 L307.57 217.10" stroke="#3a3a3a" stroke-width="0.75" fill="none"/>
<path d="M323.54 206.50 L323.54 209.50 M321.99 206.50 L325.09 206.50 M321.99 209.50 L325.09 209.50" stroke="#3a3a3a" stroke-width="0.75" fill="none"/>
<circle cx="235.94" cy="277.10" r="1.45" fill="#eee" stroke="#222" stroke-width="1.0"/>
<circle cx="241.78" cy="274.20" r="1.45" fill="#eee" stroke="#222" stroke-width="1.0"/>
<circle cx="247.62" cy="256.90" r="1.45" fill="#eee" stroke="#222" stroke-width="1.0"/>
<circle cx="265.14" cy="259.00" r="1.45" fill="#eee" stroke="#222" stroke-width="1.0"/>
<circle cx="276.82" cy="249.60" r="1.45" fill="#eee" stroke="#222" stroke-width="1.0"/>
<circle cx="288.50" cy="232.00" r="1.45" fill="#eee" stroke="#222" stroke-width="1.0"/>
<circle cx="306.02" cy="215.60" r="1.45" fill="#eee" stroke="#222" stroke-width="1.0"/>
<circle cx="323.54" cy="208.00" r="1.45" fill="#eee" stroke="#222" stroke-width="1.0"/>
<path d="M235.94 282.30 L241.78 270.00 L247.62 255.60 L265.14 265.70 L276.82 264.20 L288.50 260.40 L306.02 259.60 L323.54 255.60" fill="none" stroke="#666" stroke-width="0.75" stroke-dasharray="0.6 2.0"/>
<path d="M276.82 261.00 L276.82 268.00 M275.27 261.00 L278.37 261.00 M275.27 268.00 L278.37 268.00" stroke="#3a3a3a" stroke-width="0.75" fill="none"/>
<circle cx="235.94" cy="282.30" r="1.75" fill="#000"/>
<circle cx="241.78" cy="270.00" r="1.75" fill="#000"/>
<circle cx="247.62" cy="255.60" r="1.75" fill="#000"/>
<circle cx="265.14" cy="265.70" r="1.75" fill="#000"/>
<circle cx="276.82" cy="264.20" r="1.75" fill="#000"/>
<circle cx="288.50" cy="260.40" r="1.75" fill="#000"/>
<circle cx="306.02" cy="259.60" r="1.75" fill="#000"/>
<circle cx="323.54" cy="255.60" r="1.75" fill="#000"/>
<rect x="45.40" y="381.70" width="126.1" height="126.0" fill="none" stroke="#333" stroke-width="0.8"/>
<line x1="50.10" y1="507.70" x2="50.10" y2="513.00" stroke="#333" stroke-width="0.8"/>
<text x="50.10" y="524.40" font-size="7.2" text-anchor="middle" >0</text>
<line x1="79.30" y1="507.70" x2="79.30" y2="513.00" stroke="#333" stroke-width="0.8"/>
<text x="79.30" y="524.40" font-size="7.2" text-anchor="middle" >5</text>
<line x1="108.50" y1="507.70" x2="108.50" y2="513.00" stroke="#333" stroke-width="0.8"/>
<text x="108.50" y="524.40" font-size="7.2" text-anchor="middle" >10</text>
<line x1="137.70" y1="507.70" x2="137.70" y2="513.00" stroke="#333" stroke-width="0.8"/>
<text x="137.70" y="524.40" font-size="7.2" text-anchor="middle" >15</text>
<line x1="166.90" y1="507.70" x2="166.90" y2="513.00" stroke="#333" stroke-width="0.8"/>
<text x="166.90" y="524.40" font-size="7.2" text-anchor="middle" >20</text>
<text x="108.45" y="542.30" font-size="7.2" text-anchor="middle" >Day</text>
<line x1="40.60" y1="502.90" x2="45.40" y2="502.90" stroke="#333" stroke-width="0.8"/>
<line x1="40.60" y1="479.60" x2="45.40" y2="479.60" stroke="#333" stroke-width="0.8"/>
<line x1="40.60" y1="456.30" x2="45.40" y2="456.30" stroke="#333" stroke-width="0.8"/>
<line x1="40.60" y1="433.00" x2="45.40" y2="433.00" stroke="#333" stroke-width="0.8"/>
<line x1="40.60" y1="409.70" x2="45.40" y2="409.70" stroke="#333" stroke-width="0.8"/>
<line x1="40.60" y1="386.40" x2="45.40" y2="386.40" stroke="#333" stroke-width="0.8"/>
<text x="0" y="0" transform="translate(33.80,502.90) rotate(-90)" font-size="7.2" text-anchor="middle" >0</text>
<text x="0" y="0" transform="translate(33.80,479.60) rotate(-90)" font-size="7.2" text-anchor="middle" >1</text>
<text x="0" y="0" transform="translate(33.80,456.30) rotate(-90)" font-size="7.2" text-anchor="middle" >2</text>
<text x="0" y="0" transform="translate(33.80,433.00) rotate(-90)" font-size="7.2" text-anchor="middle" >3</text>
<text x="0" y="0" transform="translate(33.80,409.70) rotate(-90)" font-size="7.2" text-anchor="middle" >4</text>
<text x="0" y="0" transform="translate(33.80,386.40) rotate(-90)" font-size="7.2" text-anchor="middle" >5</text>
<text x="108.45" y="378.30" font-size="5.9" text-anchor="middle" class="tt">(E) − wheat straw (NH<tspan font-size="70%" dy="1.2">3</tspan><tspan dy="-1.2">)</tspan></text>
<text x="0" y="0" transform="translate(14.70,470.20) rotate(-90)" font-size="7.20" text-anchor="start" xml:space="preserve">g (NH</text>
<text x="0" y="0" transform="translate(16.15,451.40) rotate(-90)" font-size="5.04" text-anchor="start" xml:space="preserve">3</text>
<text x="0" y="0" transform="translate(14.70,448.60) rotate(-90)" font-size="7.20" text-anchor="start" xml:space="preserve">−N)</text>
<text x="0" y="0" transform="translate(14.70,431.30) rotate(-90)" font-size="7.20" text-anchor="start" xml:space="preserve">m</text>
<text x="0" y="0" transform="translate(11.20,424.05) rotate(-90)" font-size="5.04" text-anchor="start" xml:space="preserve">−2</text>
<line x1="46.60" y1="388.80" x2="58.00" y2="388.80" stroke="#999" stroke-width="0.6" stroke-dasharray="0.6 1.4"/>
<path d="M52.60 386.80 L54.60 388.80 L52.60 390.80 L50.60 388.80 Z" fill="none" stroke="#999" stroke-width="0.8"/>
<text x="63.00" y="390.55" font-size="6.0" text-anchor="start" class="lg">Control</text>
<line x1="46.60" y1="395.85" x2="58.00" y2="395.85" stroke="#999" stroke-width="0.6" stroke-dasharray="0.6 1.4"/>
<circle cx="52.60" cy="395.85" r="1.55" fill="#aaa" stroke="#555" stroke-width="1.1"/>
<text x="63.00" y="397.60" font-size="6.0" text-anchor="start" class="lg">Urea</text>
<line x1="46.60" y1="402.90" x2="58.00" y2="402.90" stroke="#999" stroke-width="0.6" stroke-dasharray="0.6 1.4"/>
<circle cx="52.60" cy="402.90" r="1.75" fill="#000"/>
<text x="63.00" y="404.65" font-size="6.0" text-anchor="start" class="lg">Urea +UI</text>
<path d="M50.10 502.80 L55.94 502.80 L61.78 502.80 L67.62 502.80 L85.14 502.80 L96.82 502.80 L108.50 502.80 L126.02 502.80 L143.54 502.80" fill="none" stroke="#bbb" stroke-width="0.75" stroke-dasharray="0.6 2.0"/>
<path d="M50.10 500.80 L52.10 502.80 L50.10 504.80 L48.10 502.80 Z" fill="none" stroke="#999" stroke-width="0.8"/>
<path d="M55.94 500.80 L57.94 502.80 L55.94 504.80 L53.94 502.80 Z" fill="none" stroke="#999" stroke-width="0.8"/>
<path d="M61.78 500.80 L63.78 502.80 L61.78 504.80 L59.78 502.80 Z" fill="none" stroke="#999" stroke-width="0.8"/>
<path d="M67.62 500.80 L69.62 502.80 L67.62 504.80 L65.62 502.80 Z" fill="none" stroke="#999" stroke-width="0.8"/>
<path d="M85.14 500.80 L87.14 502.80 L85.14 504.80 L83.14 502.80 Z" fill="none" stroke="#999" stroke-width="0.8"/>
<path d="M96.82 500.80 L98.82 502.80 L96.82 504.80 L94.82 502.80 Z" fill="none" stroke="#999" stroke-width="0.8"/>
<path d="M108.50 500.80 L110.50 502.80 L108.50 504.80 L106.50 502.80 Z" fill="none" stroke="#999" stroke-width="0.8"/>
<path d="M126.02 500.80 L128.02 502.80 L126.02 504.80 L124.02 502.80 Z" fill="none" stroke="#999" stroke-width="0.8"/>
<path d="M143.54 500.80 L145.54 502.80 L143.54 504.80 L141.54 502.80 Z" fill="none" stroke="#999" stroke-width="0.8"/>
<path d="M50.10 502.80 L55.94 502.80 L61.78 502.80 L67.62 501.50 L85.14 493.90 L96.82 471.50 L108.50 456.80 L126.02 442.00 L143.54 434.70" fill="none" stroke="#888" stroke-width="0.75" stroke-dasharray="0.6 2.0"/>
<path d="M85.14 491.60 L85.14 495.80 M83.59 491.60 L86.69 491.60 M83.59 495.80 L86.69 495.80" stroke="#3a3a3a" stroke-width="0.75" fill="none"/>
<path d="M96.82 465.20 L96.82 478.00 M95.27 465.20 L98.37 465.20 M95.27 478.00 L98.37 478.00" stroke="#3a3a3a" stroke-width="0.75" fill="none"/>
<path d="M108.50 449.50 L108.50 463.60 M106.95 449.50 L110.05 449.50 M106.95 463.60 L110.05 463.60" stroke="#3a3a3a" stroke-width="0.75" fill="none"/>
<path d="M126.02 432.80 L126.02 450.90 M124.47 432.80 L127.57 432.80 M124.47 450.90 L127.57 450.90" stroke="#3a3a3a" stroke-width="0.75" fill="none"/>
<path d="M143.54 425.50 L143.54 444.60 M141.99 425.50 L145.09 425.50 M141.99 444.60 L145.09 444.60" stroke="#3a3a3a" stroke-width="0.75" fill="none"/>
<circle cx="50.10" cy="502.80" r="1.55" fill="#aaa" stroke="#555" stroke-width="1.1"/>
<circle cx="55.94" cy="502.80" r="1.55" fill="#aaa" stroke="#555" stroke-width="1.1"/>
<circle cx="61.78" cy="502.80" r="1.55" fill="#aaa" stroke="#555" stroke-width="1.1"/>
<circle cx="67.62" cy="501.50" r="1.55" fill="#aaa" stroke="#555" stroke-width="1.1"/>
<circle cx="85.14" cy="493.90" r="1.55" fill="#aaa" stroke="#555" stroke-width="1.1"/>
<circle cx="96.82" cy="471.50" r="1.55" fill="#aaa" stroke="#555" stroke-width="1.1"/>
<circle cx="108.50" cy="456.80" r="1.55" fill="#aaa" stroke="#555" stroke-width="1.1"/>
<circle cx="126.02" cy="442.00" r="1.55" fill="#aaa" stroke="#555" stroke-width="1.1"/>
<circle cx="143.54" cy="434.70" r="1.55" fill="#aaa" stroke="#555" stroke-width="1.1"/>
<path d="M50.10 503.20 L55.94 502.90 L61.78 502.90 L67.62 502.40 L85.14 502.40 L96.82 502.20 L108.50 501.40 L126.02 501.10 L143.54 501.10" fill="none" stroke="#666" stroke-width="0.75" stroke-dasharray="0.6 2.0"/>
<path d="M126.02 500.00 L126.02 502.40 M124.47 500.00 L127.57 500.00 M124.47 502.40 L127.57 502.40" stroke="#3a3a3a" stroke-width="0.75" fill="none"/>
<path d="M143.54 500.00 L143.54 502.60 M141.99 500.00 L145.09 500.00 M141.99 502.60 L145.09 502.60" stroke="#3a3a3a" stroke-width="0.75" fill="none"/>
<circle cx="50.10" cy="503.20" r="1.75" fill="#000"/>
<circle cx="55.94" cy="502.90" r="1.75" fill="#000"/>
<circle cx="61.78" cy="502.90" r="1.75" fill="#000"/>
<circle cx="67.62" cy="502.40" r="1.75" fill="#000"/>
<circle cx="85.14" cy="502.40" r="1.75" fill="#000"/>
<circle cx="96.82" cy="502.20" r="1.75" fill="#000"/>
<circle cx="108.50" cy="501.40" r="1.75" fill="#000"/>
<circle cx="126.02" cy="501.10" r="1.75" fill="#000"/>
<circle cx="143.54" cy="501.10" r="1.75" fill="#000"/>
<rect x="225.40" y="381.70" width="126.1" height="126.0" fill="none" stroke="#333" stroke-width="0.8"/>
<line x1="230.10" y1="507.70" x2="230.10" y2="513.00" stroke="#333" stroke-width="0.8"/>
<text x="230.10" y="524.40" font-size="7.2" text-anchor="middle" >0</text>
<line x1="259.30" y1="507.70" x2="259.30" y2="513.00" stroke="#333" stroke-width="0.8"/>
<text x="259.30" y="524.40" font-size="7.2" text-anchor="middle" >5</text>
<line x1="288.50" y1="507.70" x2="288.50" y2="513.00" stroke="#333" stroke-width="0.8"/>
<text x="288.50" y="524.40" font-size="7.2" text-anchor="middle" >10</text>
<line x1="317.70" y1="507.70" x2="317.70" y2="513.00" stroke="#333" stroke-width="0.8"/>
<text x="317.70" y="524.40" font-size="7.2" text-anchor="middle" >15</text>
<line x1="346.90" y1="507.70" x2="346.90" y2="513.00" stroke="#333" stroke-width="0.8"/>
<text x="346.90" y="524.40" font-size="7.2" text-anchor="middle" >20</text>
<text x="288.45" y="542.30" font-size="7.2" text-anchor="middle" >Day</text>
<line x1="220.60" y1="502.90" x2="225.40" y2="502.90" stroke="#333" stroke-width="0.8"/>
<line x1="220.60" y1="479.60" x2="225.40" y2="479.60" stroke="#333" stroke-width="0.8"/>
<line x1="220.60" y1="456.30" x2="225.40" y2="456.30" stroke="#333" stroke-width="0.8"/>
<line x1="220.60" y1="433.00" x2="225.40" y2="433.00" stroke="#333" stroke-width="0.8"/>
<line x1="220.60" y1="409.70" x2="225.40" y2="409.70" stroke="#333" stroke-width="0.8"/>
<line x1="220.60" y1="386.40" x2="225.40" y2="386.40" stroke="#333" stroke-width="0.8"/>
<text x="0" y="0" transform="translate(213.80,502.90) rotate(-90)" font-size="7.2" text-anchor="middle" >0</text>
<text x="0" y="0" transform="translate(213.80,479.60) rotate(-90)" font-size="7.2" text-anchor="middle" >1</text>
<text x="0" y="0" transform="translate(213.80,456.30) rotate(-90)" font-size="7.2" text-anchor="middle" >2</text>
<text x="0" y="0" transform="translate(213.80,433.00) rotate(-90)" font-size="7.2" text-anchor="middle" >3</text>
<text x="0" y="0" transform="translate(213.80,409.70) rotate(-90)" font-size="7.2" text-anchor="middle" >4</text>
<text x="0" y="0" transform="translate(213.80,386.40) rotate(-90)" font-size="7.2" text-anchor="middle" >5</text>
<text x="288.45" y="378.30" font-size="5.9" text-anchor="middle" class="tt">(F) + wheat straw (NH<tspan font-size="70%" dy="1.2">3</tspan><tspan dy="-1.2">)</tspan></text>
<text x="0" y="0" transform="translate(194.70,470.20) rotate(-90)" font-size="7.20" text-anchor="start" xml:space="preserve">g (NH</text>
<text x="0" y="0" transform="translate(196.15,451.40) rotate(-90)" font-size="5.04" text-anchor="start" xml:space="preserve">3</text>
<text x="0" y="0" transform="translate(194.70,448.60) rotate(-90)" font-size="7.20" text-anchor="start" xml:space="preserve">−N)</text>
<text x="0" y="0" transform="translate(194.70,431.30) rotate(-90)" font-size="7.20" text-anchor="start" xml:space="preserve">m</text>
<text x="0" y="0" transform="translate(191.20,424.05) rotate(-90)" font-size="5.04" text-anchor="start" xml:space="preserve">−2</text>
<line x1="226.60" y1="388.80" x2="238.00" y2="388.80" stroke="#999" stroke-width="0.6" stroke-dasharray="0.6 1.4"/>
<path d="M232.60 386.80 L234.60 388.80 L232.60 390.80 L230.60 388.80 Z" fill="none" stroke="#999" stroke-width="0.8"/>
<text x="243.00" y="390.55" font-size="6.0" text-anchor="start" class="lg">Control</text>
<line x1="226.60" y1="395.85" x2="238.00" y2="395.85" stroke="#999" stroke-width="0.6" stroke-dasharray="0.6 1.4"/>
<circle cx="232.60" cy="395.85" r="1.55" fill="#aaa" stroke="#555" stroke-width="1.1"/>
<text x="243.00" y="397.60" font-size="6.0" text-anchor="start" class="lg">Urea</text>
<line x1="226.60" y1="402.90" x2="238.00" y2="402.90" stroke="#999" stroke-width="0.6" stroke-dasharray="0.6 1.4"/>
<circle cx="232.60" cy="402.90" r="1.75" fill="#000"/>
<text x="243.00" y="404.65" font-size="6.0" text-anchor="start" class="lg">Urea +UI</text>
<path d="M230.10 502.80 L235.94 502.80 L241.78 502.80 L247.62 502.80 L265.14 502.80 L276.82 502.80 L288.50 502.80 L306.02 502.80 L323.54 502.80" fill="none" stroke="#bbb" stroke-width="0.75" stroke-dasharray="0.6 2.0"/>
<path d="M230.10 500.80 L232.10 502.80 L230.10 504.80 L228.10 502.80 Z" fill="none" stroke="#999" stroke-width="0.8"/>
<path d="M235.94 500.80 L237.94 502.80 L235.94 504.80 L233.94 502.80 Z" fill="none" stroke="#999" stroke-width="0.8"/>
<path d="M241.78 500.80 L243.78 502.80 L241.78 504.80 L239.78 502.80 Z" fill="none" stroke="#999" stroke-width="0.8"/>
<path d="M247.62 500.80 L249.62 502.80 L247.62 504.80 L245.62 502.80 Z" fill="none" stroke="#999" stroke-width="0.8"/>
<path d="M265.14 500.80 L267.14 502.80 L265.14 504.80 L263.14 502.80 Z" fill="none" stroke="#999" stroke-width="0.8"/>
<path d="M276.82 500.80 L278.82 502.80 L276.82 504.80 L274.82 502.80 Z" fill="none" stroke="#999" stroke-width="0.8"/>
<path d="M288.50 500.80 L290.50 502.80 L288.50 504.80 L286.50 502.80 Z" fill="none" stroke="#999" stroke-width="0.8"/>
<path d="M306.02 500.80 L308.02 502.80 L306.02 504.80 L304.02 502.80 Z" fill="none" stroke="#999" stroke-width="0.8"/>
<path d="M323.54 500.80 L325.54 502.80 L323.54 504.80 L321.54 502.80 Z" fill="none" stroke="#999" stroke-width="0.8"/>
<path d="M230.10 502.80 L235.94 502.80 L241.78 502.80 L247.62 500.10 L265.14 467.00 L276.82 449.90 L288.50 441.60 L306.02 433.30 L323.54 421.80" fill="none" stroke="#888" stroke-width="0.75" stroke-dasharray="0.6 2.0"/>
<path d="M265.14 462.90 L265.14 471.50 M263.59 462.90 L266.69 462.90 M263.59 471.50 L266.69 471.50" stroke="#3a3a3a" stroke-width="0.75" fill="none"/>
<path d="M276.82 444.50 L276.82 455.70 M275.27 444.50 L278.37 444.50 M275.27 455.70 L278.37 455.70" stroke="#3a3a3a" stroke-width="0.75" fill="none"/>
<path d="M288.50 435.30 L288.50 448.30 M286.95 435.30 L290.05 435.30 M286.95 448.30 L290.05 448.30" stroke="#3a3a3a" stroke-width="0.75" fill="none"/>
<path d="M306.02 426.50 L306.02 440.40 M304.47 426.50 L307.57 426.50 M304.47 440.40 L307.57 440.40" stroke="#3a3a3a" stroke-width="0.75" fill="none"/>
<path d="M323.54 414.60 L323.54 429.20 M321.99 414.60 L325.09 414.60 M321.99 429.20 L325.09 429.20" stroke="#3a3a3a" stroke-width="0.75" fill="none"/>
<circle cx="230.10" cy="502.80" r="1.55" fill="#aaa" stroke="#555" stroke-width="1.1"/>
<circle cx="235.94" cy="502.80" r="1.55" fill="#aaa" stroke="#555" stroke-width="1.1"/>
<circle cx="241.78" cy="502.80" r="1.55" fill="#aaa" stroke="#555" stroke-width="1.1"/>
<circle cx="247.62" cy="500.10" r="1.55" fill="#aaa" stroke="#555" stroke-width="1.1"/>
<circle cx="265.14" cy="467.00" r="1.55" fill="#aaa" stroke="#555" stroke-width="1.1"/>
<circle cx="276.82" cy="449.90" r="1.55" fill="#aaa" stroke="#555" stroke-width="1.1"/>
<circle cx="288.50" cy="441.60" r="1.55" fill="#aaa" stroke="#555" stroke-width="1.1"/>
<circle cx="306.02" cy="433.30" r="1.55" fill="#aaa" stroke="#555" stroke-width="1.1"/>
<circle cx="323.54" cy="421.80" r="1.55" fill="#aaa" stroke="#555" stroke-width="1.1"/>
<path d="M230.10 503.20 L235.94 502.90 L241.78 502.90 L247.62 502.00 L265.14 502.80 L276.82 502.30 L288.50 502.30 L306.02 502.30 L323.54 502.30" fill="none" stroke="#666" stroke-width="0.75" stroke-dasharray="0.6 2.0"/>
<circle cx="230.10" cy="503.20" r="1.75" fill="#000"/>
<circle cx="235.94" cy="502.90" r="1.75" fill="#000"/>
<circle cx="241.78" cy="502.90" r="1.75" fill="#000"/>
<circle cx="247.62" cy="502.00" r="1.75" fill="#000"/>
<circle cx="265.14" cy="502.80" r="1.75" fill="#000"/>
<circle cx="276.82" cy="502.30" r="1.75" fill="#000"/>
<circle cx="288.50" cy="502.30" r="1.75" fill="#000"/>
<circle cx="306.02" cy="502.30" r="1.75" fill="#000"/>
<circle cx="323.54" cy="502.30" r="1.75" fill="#000"/>
</g>
</svg></div>
</body></html>
